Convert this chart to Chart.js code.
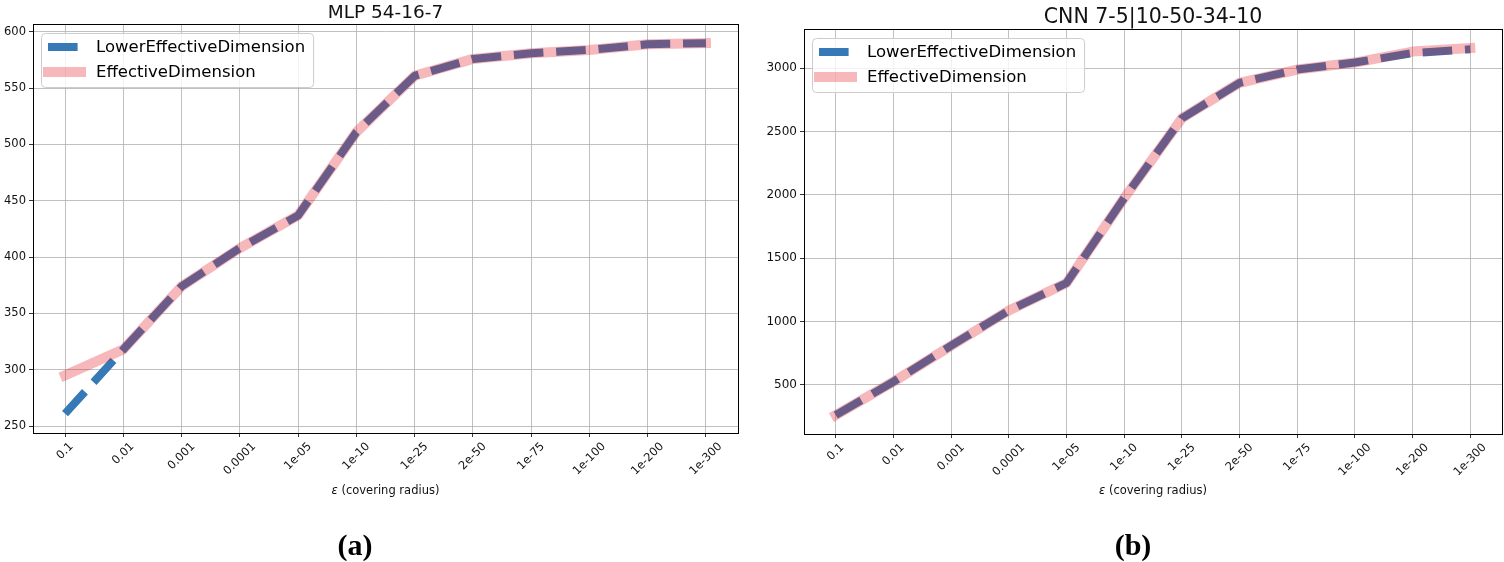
<!DOCTYPE html>
<html>
<head>
<meta charset="utf-8">
<title>Effective dimension</title>
<script src="https://cdn.jsdelivr.net/npm/chart.js@4.4.1/dist/chart.umd.min.js"></script>
<style>
  html, body { margin: 0; padding: 0; background: #fff; }
  #wrap { position: relative; width: 1504px; height: 562px; }
  .panel { position: absolute; top: 0; width: 752px; height: 562px; }
  #left { left: 0; }
  #right { left: 752px; }
</style>
</head>
<body>
<div id="wrap">
  <div class="panel" id="left"><canvas id="mlpChart" width="752" height="562"></canvas></div>
  <div class="panel" id="right"><canvas id="cnnChart" width="752" height="562"></canvas></div>
</div>
<script>
// values
const epsLabels = ['0.1', '0.01', '0.001', '0.0001', '1e-05', '1e-10', '1e-25', '2e-50', '1e-75', '1e-100', '1e-200', '1e-300'];

const mlpLower = [261, 318, 374, 408, 437, 511, 561, 576, 581, 584, 589, 590];
const mlpEffective = [295, 318, 374, 408, 437, 511, 561, 576, 581, 584, 589, 590];
const mlpYTicks = [250, 300, 350, 400, 450, 500, 550, 600];

const cnnLower = [262, 526, 810, 1088, 1305, 1975, 2605, 2885, 2990, 3045, 3120, 3150];
const cnnEffective = [262, 526, 810, 1088, 1305, 1975, 2605, 2885, 2990, 3045, 3132, 3160];
const cnnYTicks = [500, 1000, 1500, 2000, 2500, 3000];

const seriesNames = ['LowerEffectiveDimension', 'EffectiveDimension'];

const BLUE = '#357ab6';
const PINK = 'rgba(230, 20, 30, 0.3)';
const DASH = [29.6, 12.8];
const FONT = "'DejaVu Sans', sans-serif";

function points(values) {
  return values.map((v, i) => ({ x: i, y: v }));
}

// frame, rotated x tick labels, axis title, legend, caption
const decorPlugin = {
  id: 'decor',
  afterDraw(chart, args, opts) {
    const ctx = chart.ctx;
    const area = chart.chartArea;
    const xs = chart.scales.x;

    ctx.save();
    // axes frame
    ctx.strokeStyle = '#000';
    ctx.lineWidth = 1;
    ctx.strokeRect(Math.round(area.left) + 0.5, Math.round(area.top) + 0.5,
      Math.round(area.right - area.left), Math.round(area.bottom - area.top));

    // x tick labels, rotated 45 degrees and centred under the tick
    ctx.fillStyle = '#111';
    ctx.font = '11.5px ' + FONT;
    ctx.textAlign = 'center';
    ctx.textBaseline = 'middle';
    xs.ticks.forEach((t) => {
      const label = epsLabels[t.value];
      const px = xs.getPixelForValue(t.value);
      const w = ctx.measureText(label).width;
      const side = (w + 13) * Math.SQRT1_2;
      ctx.save();
      ctx.translate(px, area.bottom + 7 + side / 2);
      ctx.rotate(-Math.PI / 4);
      ctx.fillText(label, 0, 0);
      ctx.restore();
    });

    // x axis title
    const cx = (area.left + area.right) / 2;
    ctx.textBaseline = 'middle';
    ctx.textAlign = 'left';
    ctx.font = 'italic 11.5px ' + FONT;
    const epsW = ctx.measureText('ε').width;
    ctx.font = '11.5px ' + FONT;
    const restW = ctx.measureText(' (covering radius)').width;
    const startX = cx - (epsW + restW) / 2;
    ctx.font = 'italic 11.5px ' + FONT;
    ctx.fillText('ε', startX, 491);
    ctx.font = '11.5px ' + FONT;
    ctx.fillText(' (covering radius)', startX + epsW, 491);

    // title
    ctx.textAlign = 'center';
    ctx.textBaseline = 'alphabetic';
    ctx.font = opts.titleSize + 'px ' + FONT;
    ctx.fillText(opts.title, cx, area.top - 6);

    // legend
    ctx.font = '16.5px ' + FONT;
    const textW = Math.max(...seriesNames.map((n) => ctx.measureText(n).width));
    const bx = area.left + 8;
    const by = area.top + 9;
    const bw = 55 + textW + 8;
    const bh = 54;
    ctx.beginPath();
    ctx.roundRect(bx + 0.5, by + 0.5, bw, bh, 4);
    ctx.fillStyle = 'rgba(255,255,255,0.8)';
    ctx.fill();
    ctx.strokeStyle = '#cccccc';
    ctx.lineWidth = 1;
    ctx.stroke();

    ctx.lineWidth = 8;
    ctx.strokeStyle = BLUE;
    ctx.lineCap = 'butt';
    ctx.setLineDash(DASH);
    ctx.beginPath();
    ctx.moveTo(bx + 7, by + 14);
    ctx.lineTo(bx + 40, by + 14);
    ctx.stroke();
    ctx.setLineDash([]);

    ctx.lineWidth = 10;
    ctx.strokeStyle = PINK;
    ctx.lineCap = 'square';
    ctx.beginPath();
    ctx.moveTo(bx + 7, by + 39);
    ctx.lineTo(bx + 40, by + 39);
    ctx.stroke();

    ctx.fillStyle = '#000';
    ctx.textAlign = 'left';
    ctx.textBaseline = 'middle';
    ctx.fillText(seriesNames[0], bx + 55, by + 15);
    ctx.fillText(seriesNames[1], bx + 55, by + 40);

    // panel caption
    ctx.font = 'bold 30px "Liberation Serif", serif';
    ctx.textAlign = 'center';
    ctx.textBaseline = 'alphabetic';
    ctx.fillText(opts.caption, opts.captionX, 555);
    ctx.restore();
  }
};

function renderPanel(canvasId, lower, effective, yTicks, cfg) {
  new Chart(document.getElementById(canvasId), {
    type: 'line',
    data: {
      datasets: [
        {
          label: seriesNames[0],
          data: points(lower),
          borderColor: BLUE,
          borderWidth: 8,
          borderDash: DASH,
          borderCapStyle: 'butt',
          borderJoinStyle: 'round',
          pointRadius: 0,
          tension: 0,
          order: 2
        },
        {
          label: seriesNames[1],
          data: points(effective),
          borderColor: PINK,
          borderWidth: 10,
          borderCapStyle: 'square',
          borderJoinStyle: 'round',
          pointRadius: 0,
          tension: 0,
          order: 1
        }
      ]
    },
    options: {
      responsive: false,
      animation: false,
      events: [],
      layout: { padding: { top: cfg.top, right: cfg.right, left: 0, bottom: 0 } },
      plugins: {
        legend: { display: false },
        tooltip: { enabled: false },
        decor: { title: cfg.title, titleSize: cfg.titleSize, caption: cfg.caption, captionX: cfg.captionX }
      },
      scales: {
        x: {
          type: 'linear',
          min: -0.55,
          max: epsLabels.length - 1 + 0.55,
          afterBuildTicks: (scale) => { scale.ticks = epsLabels.map((_, i) => ({ value: i })); },
          afterFit: (scale) => { scale.height = 562 - cfg.bottom; },
          ticks: { display: false },
          border: { display: false },
          grid: { color: '#b0b0b0', lineWidth: 0.8, drawTicks: true, tickLength: 4, tickColor: '#000' }
        },
        y: {
          min: cfg.yMin,
          max: cfg.yMax,
          afterBuildTicks: (scale) => { scale.ticks = yTicks.map((v) => ({ value: v })); },
          afterFit: (scale) => { scale.width = cfg.left; },
          ticks: { color: '#111', font: { family: FONT, size: cfg.tickSize }, padding: 3, callback: (v) => String(v) },
          border: { display: false },
          grid: { color: '#b0b0b0', lineWidth: 0.8, drawTicks: true, tickLength: 4, tickColor: '#000' }
        }
      }
    },
    plugins: [decorPlugin]
  });
}

document.addEventListener('DOMContentLoaded', () => {
  renderPanel('mlpChart', mlpLower, mlpEffective, mlpYTicks, {
    title: 'MLP 54-16-7', titleSize: 18.5, caption: '(a)', captionX: 355,
    top: 24, bottom: 433, left: 33, right: 14, yMin: 243.8, yMax: 607, tickSize: 11.5
  });
  renderPanel('cnnChart', cnnLower, cnnEffective, cnnYTicks, {
    title: 'CNN 7-5|10-50-34-10', titleSize: 20.5, caption: '(b)', captionX: 381,
    top: 29, bottom: 434, left: 52, right: 2, yMin: 113, yMax: 3310, tickSize: 12
  });
});
</script>
</body>
</html>
